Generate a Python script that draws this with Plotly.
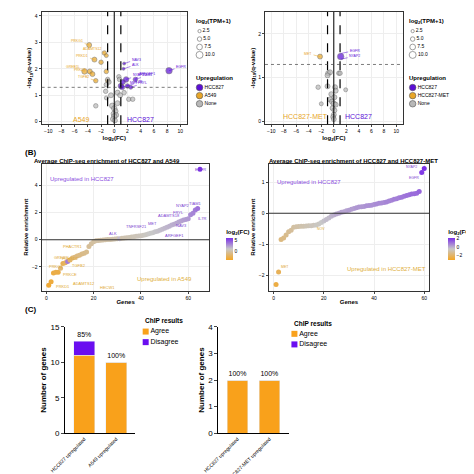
import plotly.graph_objects as go

PURPLE = '#5b0fd6'
ORANGE = '#e8a628'
GREY = '#b8b8b8'

# ---- panel A left: volcano HCC827 vs A549
a1_x = [-3.8, -1.5, -1.2, -3.0, -2.0, -1.2, -4.5, -3.7, -3.3, -2.8, -1.0,
        8.3, 1.5, 1.4, 1.8, 3.2, 1.0, 1.2, 2.0, 2.5, 1.3,
        -1.0, -0.8, -1.2, 0.7, 0.8, -1.3, -0.5, 0.5, 0.9, 1.5, -1.2, 2.2, 2.8,
        -2.8, -0.3, 0.0, 0.2, -0.1, 0.3, 0.0, -0.2, 0.1, 0.5]
a1_y = [2.9, 2.6, 2.5, 2.35, 2.25, 1.9, 1.9, 1.9, 1.8, 1.55, 1.55,
        1.93, 2.2, 2.0, 1.6, 1.6, 1.35, 1.3, 1.35, 1.3, 1.5,
        1.6, 1.5, 1.4, 1.7, 1.6, 1.15, 1.0, 1.1, 1.0, 1.1, 0.9, 0.85, 0.85,
        0.6, 0.6, 0.5, 0.4, 0.3, 0.25, 0.2, 0.1, 0.05, 0.7]
a1_tpm = [6, 5, 4, 6, 5, 5, 7, 6, 6, 5, 5,
          9, 2, 2, 7, 5, 7, 6, 5, 4, 6,
          5, 5, 5, 5, 5, 5, 6, 6, 6, 5, 4, 5, 5,
          5, 7, 7, 6, 6, 6, 7, 6, 6, 6]
a1_grp = ['A549'] * 11 + ['HCC827'] * 10 + ['None'] * 23
a1_legend = ['HCC827', 'A549', 'None']
a1_labels = [('EGFR', 8.3, 1.93), ('NAV3', 1.5, 2.2), ('ALK', 1.4, 2.0),
             ('ARFGEF1', 3.2, 1.65), ('NYAP2', 1.8, 1.6), ('TIAM1', 3.2, 1.6),
             ('FRYL', 2.5, 1.3), ('IL7R', 2.0, 1.35), ('MET', 1.2, 1.3),
             ('PRKG1', -3.8, 2.9), ('ADAMTS12', -1.5, 2.6), ('PRKD1', -3.0, 2.35),
             ('GREB1L', -4.5, 1.9), ('PRKCE', -3.3, 1.8), ('TGFB2', -2.8, 1.55)]

# ---- panel A right: volcano HCC827 vs HCC827-MET
a2_x = [1.1, -2.2,
        -0.9, -0.6, 0.8, 1.0, -1.0, -2.5, -1.0, 0.2, 0.3, 1.9, -0.4, 0.1,
        -0.6, -2.0, -0.3, 0.0, 0.3, -0.2, 0.1, 0.0, -0.1, 0.0]
a2_y = [1.48, 1.48,
        1.1, 1.12, 1.1, 1.1, 1.05, 0.78, 0.8, 0.78, 0.7, 0.72, 0.62, 0.55,
        0.5, 0.4, 0.45, 0.4, 0.38, 0.3, 0.25, 0.15, 0.1, 0.05]
a2_tpm = [9, 6,
          6, 6, 5, 5, 6, 5, 6, 6, 6, 4, 6, 6,
          6, 4, 6, 7, 6, 6, 6, 6, 6, 6]
a2_grp = ['HCC827', 'HCC827-MET'] + ['None'] * 22
a2_legend = ['HCC827', 'HCC827-MET', 'None']
a2_labels = [('EGFR', 1.1, 1.55), ('NYAP2', 1.1, 1.42), ('MET', -2.2, 1.48)]

tpm_keys = [2.5, 5.0, 7.5, 10.0]
tpm_key_labels = ['2.5', '5.0', '7.5', '10.0']

# ---- panel B left: ChIP enrichment HCC827 vs A549
b1_enrich = [-3.35, -3.1, -2.45, -2.4, -2.4, -2.1, -1.75, -1.7, -1.6, -1.5,
             -1.35, -1.3, -1.2, -1.15, -1.05, -1.0, -0.9, -0.5, -0.3, -0.15,
             -0.08, -0.05, -0.03, -0.02, 0.0, 0.01, 0.02, 0.03, 0.05, 0.07,
             0.08, 0.1, 0.12, 0.15, 0.17, 0.2, 0.22, 0.25, 0.27, 0.3,
             0.33, 0.37, 0.42, 0.47, 0.52, 0.58, 0.63, 0.7, 0.78, 0.85,
             0.92, 1.0, 1.08, 1.15, 1.22, 1.3, 1.38, 1.45, 1.5, 1.55,
             1.85, 1.95, 2.2, 2.3, 5.2]
b1_fc = [-3.5, -3.2, -3.0, -2.8, -2.9, -1.5, -2.5, -2.2, 3.5, -2.0,
         -1.5, -1.4, -1.2, -1.1, -1.0, -0.9, -0.8, -0.5, -0.3, -0.2,
         -0.1, 0.0, 0.0, 0.0, 0.0, 0.1, 0.1, 0.1, 0.2, 0.2,
         1.5, 0.2, 0.3, 0.3, 0.4, 0.4, 0.5, 0.5, 0.6, 0.6,
         0.7, 0.8, 0.9, 1.0, 1.0, 1.1, 1.2, 1.3, 1.4, 1.5,
         1.6, 1.7, 1.8, 1.9, 2.0, 2.1, 2.2, 2.3, 2.4, 2.5,
         3.0, 3.2, 3.5, 3.8, 6.0]
b1_labels = [('EGFR', 65, 5.2), ('NYAP2', 58, 2.55), ('TIAM1', 63, 2.65),
             ('FRYL', 56, 2.0), ('IL7R', 66, 1.6), ('ADAMTS18', 52, 1.75),
             ('NAV3', 57, 1.05), ('MET', 45, 1.2), ('TNFRSF21', 38, 0.95),
             ('ARFGEF1', 54, 0.3), ('ALK', 28, 0.45)]
b1_labels_o = [('PHACTR1', 11, -0.5), ('GREB1L', 7, -1.3), ('PRKG1', 4, -1.95),
               ('TGFB2', 14, -1.9), ('PRKCE', 10, -2.6), ('ADAMTS12', 16, -3.2),
               ('PRKD1', 7, -3.45), ('HECW1', 26, -3.5), ('FCHSD2', 10, -1.35)]

# ---- panel B right: ChIP enrichment HCC827 vs HCC827-MET
b2_enrich = [-2.3, -1.9, -0.85, -0.8, -0.7, -0.6, -0.55, -0.45, -0.44, -0.43,
             -0.42, -0.42, -0.41, -0.4, -0.4, -0.39, -0.38, -0.35, -0.3, -0.25,
             -0.2, -0.15, -0.1, -0.06, -0.02, 0.0, 0.03, 0.05, 0.08, 0.1,
             0.13, 0.15, 0.18, 0.2, 0.21, 0.22, 0.24, 0.25, 0.26, 0.28,
             0.3, 0.32, 0.33, 0.35, 0.36, 0.4, 0.42, 0.45, 0.47, 0.5,
             0.52, 0.55, 0.57, 0.6, 0.62, 0.63, 0.65, 0.7, 1.32, 1.45]
b2_fc = [-2.5, -2.2, -1.6, -1.5, -1.4, -1.3, -1.2, -1.1, -1.0, -1.0,
         -0.9, -0.9, -0.8, -0.8, -0.7, -0.7, -0.6, -0.6, -0.5, -0.4,
         -0.3, -0.3, -0.2, -0.1, 0.0, 0.0, 0.1, 0.1, 0.1, 0.2,
         0.2, 0.2, 0.3, 0.3, 0.3, 0.3, 0.4, 0.4, 0.4, 0.4,
         0.5, 0.5, 0.5, 0.5, 0.6, 0.6, 0.6, 0.7, 0.7, 0.7,
         0.8, 0.8, 0.9, 0.9, 1.0, 1.0, 1.0, 1.1, 1.8, 2.0]
b2_labels = [('NYAP2', 55, 1.5), ('EGFR', 56, 1.15), ('MET', 4.5, -1.75), ('NOV', 19, -0.5)]

# ---- panel C: bar counts
c_cats = ['HCC827 upregulated', 'A549 upregulated']
c1_agree = [11, 10]
c1_disagree = [2, 0]
c1_pct = ['85%', '100%']
c2_cats = ['HCC827 upregulated', 'HCC827-MET upregulated']
c2_agree = [2, 2]
c2_disagree = [0, 0]
c2_pct = ['100%', '100%']
chip_keys = ['Agree', 'Disagree']

AGREE_COL = '#f9a11b'
DIS_COL = '#6a0ef0'
GROUP_COL = {'HCC827': PURPLE, 'A549': ORANGE, 'HCC827-MET': ORANGE, 'None': GREY}
CSCALE = [[0, '#f5a623'], [0.5, '#c8c8c8'], [1, '#7b2fe8']]

fig = go.Figure()
F = 'Arial'

def sz(t):
    return 2 + t * 0.5

# volcano traces
for xi, yi, ti, gi, xa, ya in [
    (a1_x, a1_y, a1_tpm, a1_grp, 'x', 'y'),
    (a2_x, a2_y, a2_tpm, a2_grp, 'x2', 'y2'),
]:
    for g in dict.fromkeys(gi):
        idx = [i for i, v in enumerate(gi) if v == g]
        fig.add_trace(go.Scatter(
            x=[xi[i] for i in idx], y=[yi[i] for i in idx], mode='markers',
            marker=dict(size=[sz(ti[i]) for i in idx], color=GROUP_COL[g],
                        line=dict(color='#555', width=0.6)),
            name=g, xaxis=xa, yaxis=ya, showlegend=False))

# hand-built legend keys (own hidden axes, pixel units)
ann = []
for lg, xa, ya in [(a1_legend, 'x7', 'y7'), (a2_legend, 'x8', 'y8')]:
    key_y = [20 + 8.3 * i for i in range(len(tpm_keys))]
    fig.add_trace(go.Scatter(
        x=[6] * len(tpm_keys), y=key_y, mode='markers+text', text=tpm_key_labels,
        textposition='middle right', textfont=dict(size=5),
        marker=dict(size=[sz(s) for s in tpm_keys], color='white', line=dict(color='#555', width=0.8)),
        xaxis=xa, yaxis=ya, showlegend=False, cliponaxis=False))
    up_y = [79 + 8.5 * i for i in range(len(lg))]
    fig.add_trace(go.Scatter(
        x=[6] * len(lg), y=up_y, mode='markers+text', text=lg,
        textposition='middle right', textfont=dict(size=5),
        marker=dict(size=6.5, color=[GROUP_COL[g] for g in lg], line=dict(color='#555', width=0.6)),
        xaxis=xa, yaxis=ya, showlegend=False, cliponaxis=False))
    ann.append(dict(x=0, y=10, xref=xa, yref=ya, text='<b>log<sub>2</sub>(TPM+1)</b>', showarrow=False,
                    xanchor='left', font=dict(size=6)))
    ann.append(dict(x=0, y=69, xref=xa, yref=ya, text='<b>Upregulation</b>', showarrow=False,
                    xanchor='left', font=dict(size=6)))
for xa, ya in [('x9', 'y9'), ('x10', 'y10')]:
    fig.add_trace(go.Scatter(
        x=[3, 3], y=[12, 23], mode='markers+text', text=chip_keys,
        textposition='middle right', textfont=dict(size=7),
        marker=dict(size=6, symbol='square', color=[AGREE_COL, DIS_COL]),
        xaxis=xa, yaxis=ya, showlegend=False, cliponaxis=False))
    ann.append(dict(x=0, y=1, xref=xa, yref=ya, text='<b>ChIP results</b>', showarrow=False,
                    xanchor='left', font=dict(size=6.5)))

# enrichment traces
for en, fc, xa, ya, cmin, cmax, cbx in [
    (b1_enrich, b1_fc, 'x3', 'y3', -4, 6, 0.435),
    (b2_enrich, b2_fc, 'x4', 'y4', -3, 2, 0.935),
]:
    fig.add_trace(go.Scatter(
        x=list(range(1, len(en) + 1)), y=en, mode='markers', xaxis=xa, yaxis=ya,
        showlegend=False,
        marker=dict(size=5, color=fc, colorscale=CSCALE, cmin=cmin, cmax=cmax,
                    colorbar=dict(x=cbx, xanchor='left', y=0.49, len=0.12, thickness=7,
                                  title=dict(text='<b>log<sub>2</sub>(FC)</b>', font=dict(size=6)),
                                  tickfont=dict(size=5), outlinewidth=0))))

# bars
for cats, ag, dis, pct, xa, ya in [
    (c_cats, c1_agree, c1_disagree, c1_pct, 'x5', 'y5'),
    (c2_cats, c2_agree, c2_disagree, c2_pct, 'x6', 'y6'),
]:
    fig.add_trace(go.Bar(x=cats, y=ag, name='Agree', marker_color=AGREE_COL,
                         xaxis=xa, yaxis=ya, showlegend=False, width=0.65))
    fig.add_trace(go.Bar(x=cats, y=dis, name='Disagree', marker_color=DIS_COL,
                         xaxis=xa, yaxis=ya, showlegend=False, width=0.65,
                         text=pct, textposition='outside', cliponaxis=False,
                         textfont=dict(size=7, color='black', family=F)))

for lab, xx, yy in a1_labels:
    c = PURPLE if xx > 0 else ORANGE
    ann.append(dict(x=xx, y=yy, xref='x', yref='y', text=lab, showarrow=True, arrowhead=0,
                    arrowwidth=0.5, arrowcolor=c, ax=12 if xx > 0 else -12, ay=-4,
                    font=dict(size=3.5, color=c)))
for lab, xx, yy in a2_labels:
    c = PURPLE if xx > 0 else ORANGE
    ann.append(dict(x=xx, y=yy, xref='x2', yref='y2', text=lab, showarrow=True, arrowhead=0,
                    arrowwidth=0.5, arrowcolor=c, ax=14 if xx > 0 else -12, ay=-3,
                    font=dict(size=3.5, color=c)))
for lab, xx, yy in b1_labels:
    ann.append(dict(x=xx, y=yy, xref='x3', yref='y3', text=lab, showarrow=False,
                    font=dict(size=4, color='#7b3fd0')))
for lab, xx, yy in b1_labels_o:
    ann.append(dict(x=xx, y=yy, xref='x3', yref='y3', text=lab, showarrow=False,
                    font=dict(size=4, color='#e0a830')))
for lab, xx, yy in b2_labels:
    ann.append(dict(x=xx, y=yy, xref='x4', yref='y4', text=lab, showarrow=False,
                    font=dict(size=3.5, color='#7b3fd0' if yy > 0 else '#e0a830')))
ann += [
    dict(x=-5, y=0.1, xref='x', yref='y', text='A549', showarrow=False, font=dict(size=7, color=ORANGE)),
    dict(x=4, y=0.1, xref='x', yref='y', text='HCC827', showarrow=False, font=dict(size=7, color=PURPLE)),
    dict(x=-4.5, y=0.1, xref='x2', yref='y2', text='HCC827-MET', showarrow=False, font=dict(size=7, color=ORANGE)),
    dict(x=4, y=0.1, xref='x2', yref='y2', text='HCC827', showarrow=False, font=dict(size=7, color=PURPLE)),
    dict(x=15, y=4.5, xref='x3', yref='y3', text='Upregulated in HCC827', showarrow=False, font=dict(size=6, color='#8a4fe0')),
    dict(x=50, y=-2.9, xref='x3', yref='y3', text='Upregulated in A549', showarrow=False, font=dict(size=6, color='#e0b040')),
    dict(x=14, y=1.0, xref='x4', yref='y4', text='Upregulated in HCC827', showarrow=False, font=dict(size=6, color='#8a4fe0')),
    dict(x=45, y=-1.8, xref='x4', yref='y4', text='Upregulated in HCC827-MET', showarrow=False, font=dict(size=6, color='#e0b040')),
    dict(x=0.0, y=0.705, xref='paper', yref='paper', text='<b>(B)</b>', showarrow=False, xanchor='left', font=dict(size=8)),
    dict(x=0.0, y=0.33, xref='paper', yref='paper', text='<b>(C)</b>', showarrow=False, xanchor='left', font=dict(size=8)),
    dict(x=0.02, y=0.683, xref='paper', yref='paper', text='<b>Average ChIP-seq enrichment of HCC827 and A549</b>',
         showarrow=False, xanchor='left', font=dict(size=6)),
    dict(x=0.55, y=0.683, xref='paper', yref='paper', text='<b>Average ChIP-seq enrichment of HCC827 and HCC827-MET</b>',
         showarrow=False, xanchor='left', font=dict(size=6)),
]
shapes = []
for xa, ya in [('x', 'y'), ('x2', 'y2')]:
    for xv, d in [(-1, 'dash'), (1, 'dash'), (0, 'solid')]:
        shapes.append(dict(type='line', xref=xa, yref=f'{ya} domain', x0=xv, x1=xv, y0=0, y1=1,
                           line=dict(color='black', width=1.2 if d == 'dash' else 1, dash=d)))
    shapes.append(dict(type='line', xref=f'{xa} domain', yref=ya, x0=0, x1=1, y0=1.3, y1=1.3,
                       line=dict(color='#444', width=0.7, dash='dot')))
for xa, ya in [('x3', 'y3'), ('x4', 'y4')]:
    shapes.append(dict(type='line', xref=f'{xa} domain', yref=ya, x0=0, x1=1, y0=0, y1=0,
                       line=dict(color='#333', width=1.2)))

ggx = dict(showgrid=True, gridcolor='#eeeeee', zeroline=False, showline=True, linecolor='#333',
           mirror=True, ticks='outside', ticklen=2, tickfont=dict(size=5), title_font=dict(size=6))
hid = dict(visible=False, showgrid=False, zeroline=False, fixedrange=True)
fig.update_layout(
    width=474, height=474, margin=dict(l=0, r=0, t=0, b=0),
    plot_bgcolor='white', paper_bgcolor='white', font=dict(family=F, color='black'),
    barmode='stack', annotations=ann, shapes=shapes, showlegend=False,
    xaxis=dict(ggx, domain=[0.042, 0.369], anchor='y', range=[-11, 11], dtick=2,
               title=dict(text='<b>log<sub>2</sub>(FC)</b>', standoff=2)),
    yaxis=dict(ggx, domain=[0.752, 1.0], anchor='x', range=[-0.1, 4.15], dtick=1,
               title=dict(text='<b>-log<sub>10</sub>(q-value)</b>', standoff=2)),
    xaxis2=dict(ggx, domain=[0.545, 0.855], anchor='y2', range=[-11, 11], dtick=2,
                title=dict(text='<b>log<sub>2</sub>(FC)</b>', standoff=2)),
    yaxis2=dict(ggx, domain=[0.752, 1.0], anchor='x2', range=[-0.07, 2.5], dtick=1,
                title=dict(text='<b>-log<sub>10</sub>(q-value)</b>', standoff=2)),
    xaxis3=dict(ggx, domain=[0.042, 0.42], anchor='y3', range=[-2, 69], dtick=20,
                title=dict(text='<b>Genes</b>', standoff=0)),
    yaxis3=dict(ggx, domain=[0.385, 0.665], anchor='x3', range=[-3.75, 5.6], dtick=2,
                title=dict(text='<b>Relative enrichment</b>', standoff=2)),
    xaxis4=dict(ggx, domain=[0.553, 0.915], anchor='y4', range=[-2, 62], dtick=20,
                title=dict(text='<b>Genes</b>', standoff=0)),
    yaxis4=dict(ggx, domain=[0.385, 0.665], anchor='x4', range=[-2.5, 1.6], dtick=1,
                title=dict(text='<b>Relative enrichment</b>', standoff=2)),
    xaxis5=dict(domain=[0.095, 0.253], anchor='y5', showline=True, linecolor='black', linewidth=1.2,
                tickangle=-45, tickfont=dict(size=5, family=F), range=[-0.6, 1.6]),
    yaxis5=dict(domain=[0.07, 0.305], anchor='x5', range=[0, 15], dtick=5, showline=True,
                linecolor='black', linewidth=1.2, ticks='outside', ticklen=3, showgrid=False,
                tickfont=dict(size=8), title=dict(text='<b>Number of genes</b>', font=dict(size=8), standoff=2)),
    xaxis6=dict(domain=[0.44, 0.598], anchor='y6', showline=True, linecolor='black', linewidth=1.2,
                tickangle=-45, tickfont=dict(size=5, family=F), range=[-0.6, 1.6]),
    yaxis6=dict(domain=[0.07, 0.305], anchor='x6', range=[0, 4], dtick=1, showline=True,
                linecolor='black', linewidth=1.2, ticks='outside', ticklen=3, showgrid=False,
                tickfont=dict(size=8), title=dict(text='<b>Number of genes</b>', font=dict(size=8), standoff=2)),
    xaxis7=dict(hid, domain=[0.385, 0.505], range=[0, 57], anchor='y7'),
    yaxis7=dict(hid, domain=[0.751, 1.0], range=[118, 0], anchor='x7'),
    xaxis8=dict(hid, domain=[0.865, 0.985], range=[0, 57], anchor='y8'),
    yaxis8=dict(hid, domain=[0.751, 1.0], range=[118, 0], anchor='x8'),
    xaxis9=dict(hid, domain=[0.27, 0.39], range=[0, 57], anchor='y9'),
    yaxis9=dict(hid, domain=[0.25, 0.32], range=[33, 0], anchor='x9'),
    xaxis10=dict(hid, domain=[0.605, 0.725], range=[0, 57], anchor='y10'),
    yaxis10=dict(hid, domain=[0.245, 0.315], range=[33, 0], anchor='x10'),
)
fig.write_html("out.html")
